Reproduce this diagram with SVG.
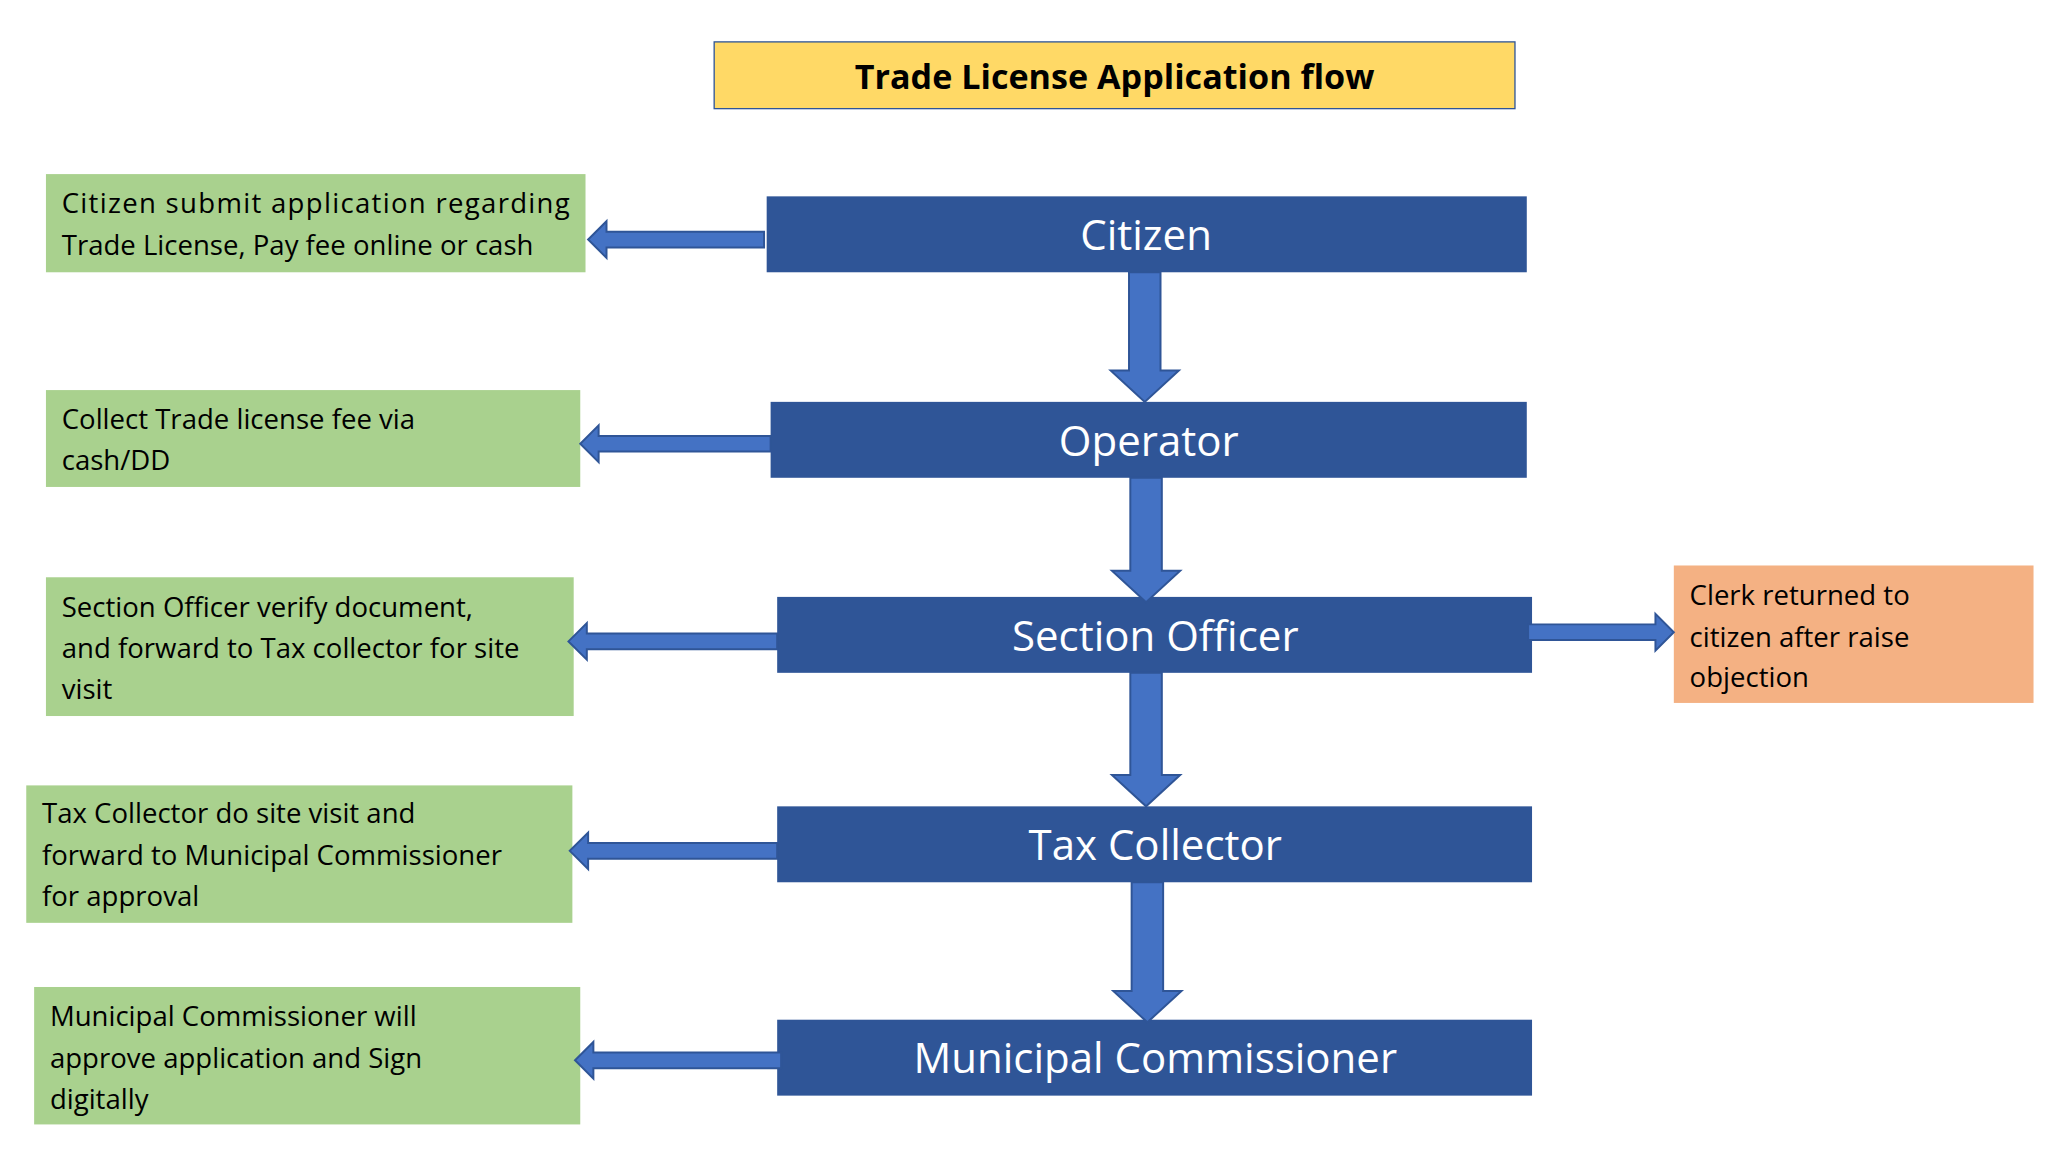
<svg xmlns="http://www.w3.org/2000/svg" width="2048" height="1152" viewBox="0 0 2048 1152">
<style>
.b{fill:#2F5597}
.g{fill:#A9D18E}
.a{fill:#4472C4;stroke:#2F5597;stroke-width:1.5}
.bt{fill:#fff;font-family:"Open Sans","Liberation Sans",sans-serif;font-size:32px;text-anchor:middle}
.t{fill:#000;font-family:"Open Sans","Liberation Sans",sans-serif;font-size:21px}
</style>
<rect width="2048" height="1152" fill="#fff"/>
<g transform="scale(1.3128,1.309)">
<g id="title"><rect x="544" y="32" width="610" height="51" fill="#FFD966" stroke="#2F5597" stroke-width="1"/><text x="849" y="68" text-anchor="middle" style="font-family:'Open Sans','Liberation Sans',sans-serif;font-size:26px;font-weight:bold">Trade License Application flow</text></g>
<g id="citizen"><rect class="b" x="584" y="150" width="579" height="58"/><text class="bt" x="873" y="191">Citizen</text></g>
<g id="operator"><rect class="b" x="587" y="307" width="576" height="58"/><text class="bt" x="875" y="348">Operator</text></g>
<g id="section"><rect class="b" x="592" y="456" width="575" height="58"/><text class="bt" x="880" y="497">Section Officer</text></g>
<g id="tax"><rect class="b" x="592" y="616" width="575" height="58"/><text class="bt" x="880" y="657">Tax Collector</text></g>
<g id="mc"><rect class="b" x="592" y="779" width="575" height="58"/><text class="bt" x="880" y="820">Municipal Commissioner</text></g>
<g id="n1"><rect class="g" x="35" y="133" width="411" height="75"/><text class="t"><tspan x="47" y="163" textLength="387" lengthAdjust="spacing">Citizen submit application regarding</tspan><tspan x="47" y="195">Trade License, Pay fee online or cash</tspan></text></g>
<g id="n2"><rect class="g" x="35" y="298" width="407" height="74"/><text class="t"><tspan x="47" y="328">Collect Trade license fee via</tspan><tspan x="47" y="359">cash/DD</tspan></text></g>
<g id="n3"><rect class="g" x="35" y="441" width="402" height="106"/><text class="t"><tspan x="47" y="471">Section Officer verify document,</tspan><tspan x="47" y="503">and forward to Tax collector for site</tspan><tspan x="47" y="534">visit</tspan></text></g>
<g id="n4"><rect class="g" x="20" y="600" width="416" height="105"/><text class="t"><tspan x="32" y="629">Tax Collector do site visit and</tspan><tspan x="32" y="661">forward to Municipal Commissioner</tspan><tspan x="32" y="692">for approval</tspan></text></g>
<g id="n5"><rect class="g" x="26" y="754" width="416" height="105"/><text class="t"><tspan x="38" y="784">Municipal Commissioner will</tspan><tspan x="38" y="816">approve application and Sign</tspan><tspan x="38" y="847">digitally</tspan></text></g>
<g id="clerk"><rect x="1275" y="432" width="274" height="105" fill="#F4B183"/><text class="t"><tspan x="1287" y="462">Clerk returned to</tspan><tspan x="1287" y="494">citizen after raise</tspan><tspan x="1287" y="525">objection</tspan></text></g>
<g id="connectors">
<path class="a" d="M860 208H884V283H898L872 307L846 283H860Z"/>
<path class="a" d="M861 365H885V436H899L873 460L847 436H861Z"/>
<path class="a" d="M861 514H885V592H899L873 616L847 592H861Z"/>
<path class="a" d="M862 674H886V757H900L874 781L848 757H862Z"/>
<path class="a" d="M582 177V189H462V197L448 183L462 169V177Z"/>
<path class="a" d="M587 333V345H456V353L442 339L456 325V333Z"/>
<path class="a" d="M592 484V496H447V504L433 490L447 476V484Z"/>
<path class="a" d="M592 644V656H448V664L434 650L448 636V644Z"/>
<path class="a" d="M595 804V816H452V824L438 810L452 796V804Z"/>
<path class="a" d="M1164 477V489H1261V497L1275 483L1261 469V477Z"/>
</g>
</g>
</svg>
